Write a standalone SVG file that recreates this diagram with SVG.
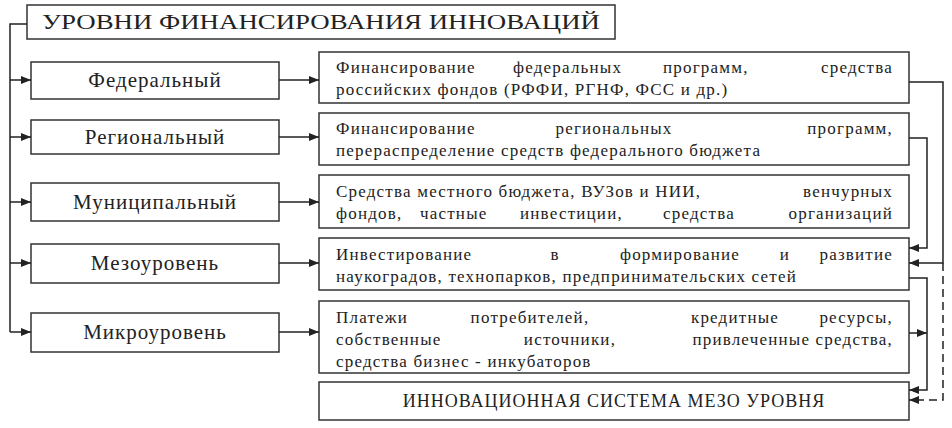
<svg xmlns="http://www.w3.org/2000/svg" width="952" height="428" viewBox="0 0 952 428">
<style>
.b{fill:#fff;stroke:#333;stroke-width:1.5}
.c{fill:none;stroke:#222;stroke-width:1.5}
.t{font-family:"Liberation Serif","DejaVu Serif",serif;fill:#222}
.l{font-size:21px;text-anchor:middle;letter-spacing:1px}
.s{font-size:17px;letter-spacing:1.2px}
.m{text-anchor:middle}
.e{text-anchor:end}
</style>
<defs>
<marker id="a" markerWidth="10" markerHeight="8" refX="10" refY="4" orient="auto" markerUnits="userSpaceOnUse"><path d="M0,0 L10,4 L0,8 z" fill="#222"/></marker>
</defs>
<rect width="952" height="428" fill="#fff"/>
<g id="title"><rect class="b" x="27" y="5" width="588" height="34"/><text class="t" x="42" y="29" font-size="20" textLength="558" lengthAdjust="spacingAndGlyphs">УРОВНИ ФИНАНСИРОВАНИЯ ИННОВАЦИЙ</text></g>
<g id="l1"><rect class="b" x="31" y="62" width="248" height="37"/><text class="t l" x="155" y="87">Федеральный</text></g>
<g id="l2"><rect class="b" x="31" y="120" width="248" height="34"/><text class="t l" x="155" y="144">Региональный</text></g>
<g id="l3"><rect class="b" x="31" y="183" width="248" height="38"/><text class="t l" x="155" y="209">Муниципальный</text></g>
<g id="l4"><rect class="b" x="31" y="244" width="248" height="39"/><text class="t l" x="155" y="270">Мезоуровень</text></g>
<g id="l5"><rect class="b" x="31" y="313" width="248" height="39"/><text class="t l" x="155" y="339">Микроуровень</text></g>
<g id="r1"><rect class="b" x="319" y="52" width="590" height="51"/>
<text class="t s" x="336" y="73">Финансирование</text><text class="t s" x="513" y="73">федеральных</text><text class="t s" x="663" y="73">программ,</text><text class="t s e" x="893" y="73">средства</text>
<text class="t s" x="336" y="95">российских фондов (РФФИ, РГНФ, ФСС и др.)</text></g>
<g id="r2"><rect class="b" x="319" y="113" width="590" height="52"/>
<text class="t s" x="336" y="134">Финансирование</text><text class="t s m" x="614" y="134">региональных</text><text class="t s e" x="893" y="134">программ,</text>
<text class="t s" x="336" y="156">перераспределение средств федерального бюджета</text></g>
<g id="r3"><rect class="b" x="319" y="175" width="590" height="53"/>
<text class="t s" x="336" y="197">Средства местного бюджета, ВУЗов и НИИ,</text><text class="t s e" x="893" y="197">венчурных</text>
<text class="t s" x="336" y="219">фондов,</text><text class="t s" x="420" y="219">частные</text><text class="t s" x="520" y="219">инвестиции,</text><text class="t s" x="663" y="219">средства</text><text class="t s e" x="893" y="219">организаций</text></g>
<g id="r4"><rect class="b" x="319" y="238" width="590" height="52"/>
<text class="t s" x="336" y="260">Инвестирование</text><text class="t s m" x="555" y="260">в</text><text class="t s m" x="680" y="260">формирование</text><text class="t s m" x="785" y="260">и</text><text class="t s e" x="893" y="260">развитие</text>
<text class="t s" x="336" y="282">наукоградов, технопарков, предпринимательских сетей</text></g>
<g id="r5"><rect class="b" x="319" y="301" width="590" height="72"/>
<text class="t s" x="336" y="323">Платежи</text><text class="t s m" x="530" y="323">потребителей,</text><text class="t s m" x="735" y="323">кредитные</text><text class="t s e" x="893" y="323">ресурсы,</text>
<text class="t s" x="336" y="345">собственные</text><text class="t s m" x="570" y="345">источники,</text><text class="t s e" x="893" y="345">привлеченные средства,</text>
<text class="t s" x="336" y="367">средства бизнес - инкубаторов</text></g>
<g id="r6"><rect class="b" x="319" y="382" width="590" height="38"/>
<text class="t" x="614" y="407" text-anchor="middle" font-size="18" letter-spacing="1">ИННОВАЦИОННАЯ СИСТЕМА МЕЗО УРОВНЯ</text></g>
<g id="connectors">
<path class="c" d="M27,24 H10 V332"/>
<path class="c" marker-end="url(#a)" d="M10,80 H31"/>
<path class="c" marker-end="url(#a)" d="M10,137 H31"/>
<path class="c" marker-end="url(#a)" d="M10,202 H31"/>
<path class="c" marker-end="url(#a)" d="M10,263 H31"/>
<path class="c" marker-end="url(#a)" d="M10,332 H31"/>
<path class="c" marker-end="url(#a)" d="M279,80 H319"/>
<path class="c" marker-end="url(#a)" d="M279,137 H319"/>
<path class="c" marker-end="url(#a)" d="M279,202 H319"/>
<path class="c" marker-end="url(#a)" d="M279,263 H319"/>
<path class="c" marker-end="url(#a)" d="M279,332 H319"/>
<path class="c" marker-end="url(#a)" d="M909,82 H943 V263 H909"/>
<path class="c" stroke-dasharray="8,5" marker-end="url(#a)" d="M943,263 V400 H909"/>
<path class="c" marker-end="url(#a)" d="M909,138 H927 V248 H909"/>
<path class="c" marker-end="url(#a)" d="M909,278 H927 V390 H909"/>
<path class="c" marker-end="url(#a)" d="M909,333 H927"/>
</g>
</svg>
